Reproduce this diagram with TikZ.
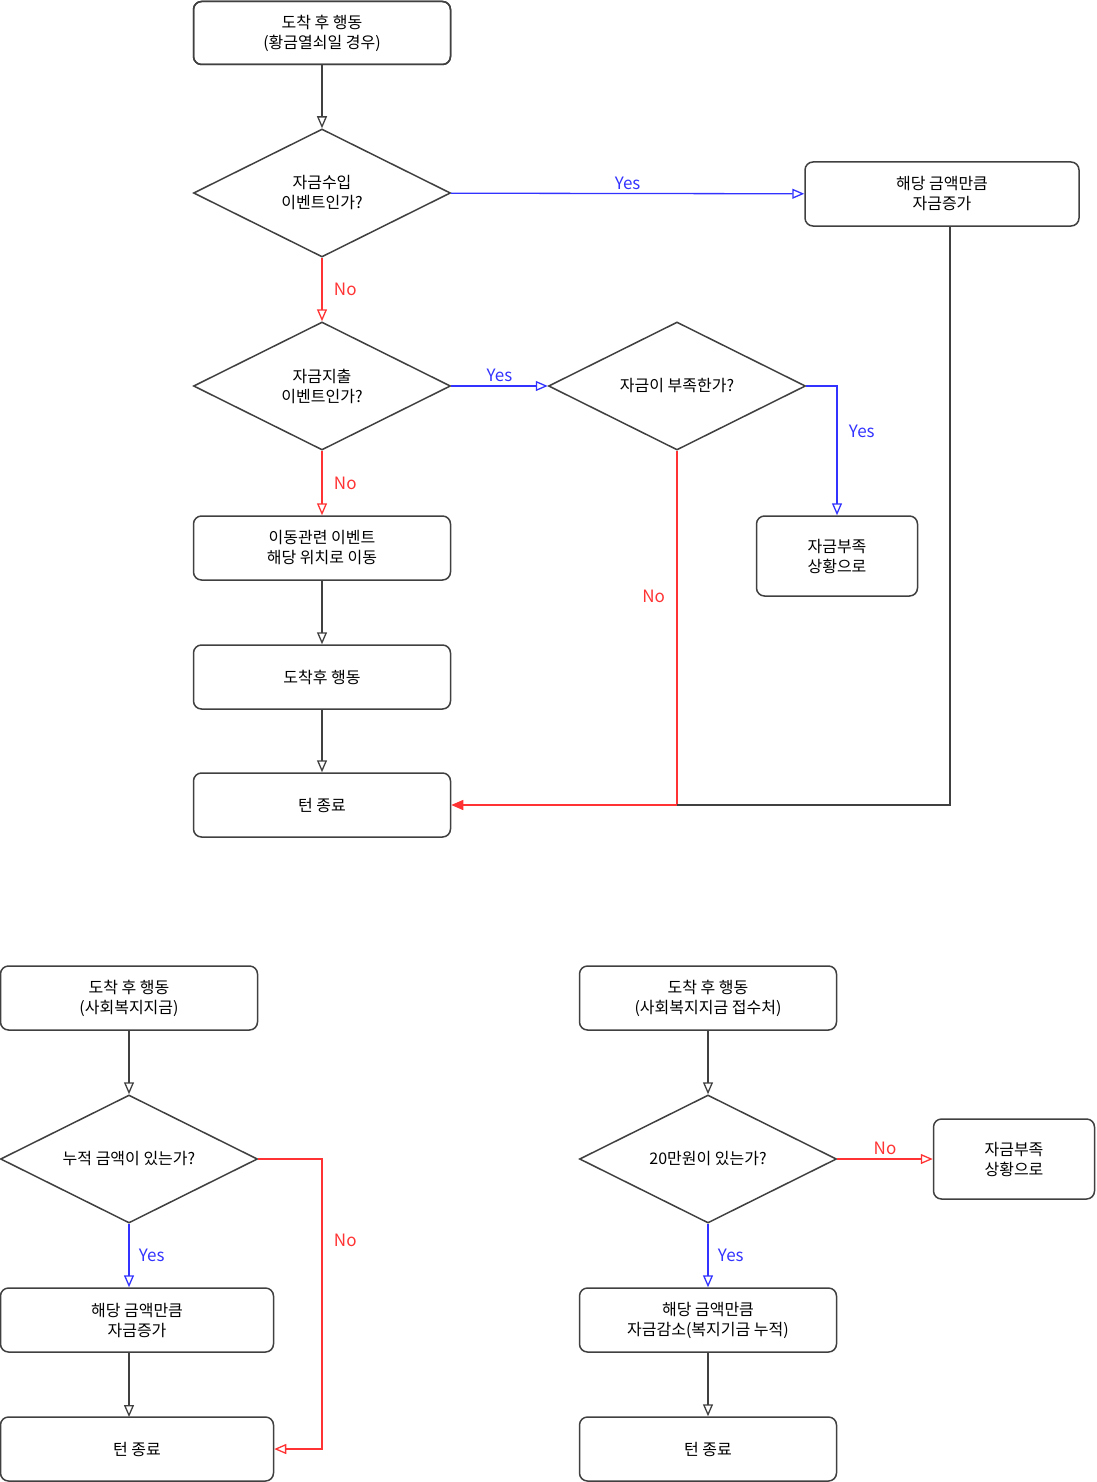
\documentclass[tikz,border=0pt]{standalone}
\usepackage{fontspec}
\setmainfont{Noto Sans CJK KR}
\usetikzlibrary{shapes.geometric,arrows.meta}
\definecolor{cb}{RGB}{51,51,255}
\definecolor{cr}{RGB}{255,51,51}
\begin{document}
\begin{tikzpicture}[x=1pt,y=-1pt,font=\fontsize{16}{20}\selectfont,
 box/.style={draw=black!75,line width=1.5pt,rounded corners=8pt,align=center,inner sep=0pt},
 dia/.style={draw=black!75,line width=1.5pt,diamond,aspect=2,align=center,inner sep=0pt},
 ar/.style={line width=1.3pt,-{Triangle[open,length=12pt,width=10pt]}},
 k/.style={ar,draw=black!75}, b/.style={ar,draw=cb}, r/.style={ar,draw=cr},
 lb/.style={text=cb,font=\fontsize{17}{20}\selectfont}, lr/.style={text=cr,font=\fontsize{17}{20}\selectfont}]
\useasboundingbox (0,0) rectangle (1096,1482);
\newcommand{\bx}[6]{\node[box,minimum width=#3,minimum height=#4] (#1) at (#2) {#5};}
\newcommand{\dm}[4]{\node[dia,minimum width=#3,minimum height=128] (#1) at (#2) {#4};}
\bx{A}{322,33}{257}{63}{}{}
\node[box,minimum width=257,minimum height=63] (A) at (322,33) {도착 후 행동\\(황금열쇠일 경우)};
\node[dia,minimum width=257,minimum height=128] (D1) at (322,193) {자금수입\\이벤트인가?};
\node[box,minimum width=274,minimum height=64] (R1) at (942,194) {해당 금액만큼\\자금증가};
\node[dia,minimum width=257,minimum height=128] (D2) at (322,386) {자금지출\\이벤트인가?};
\node[dia,minimum width=257,minimum height=128] (D3) at (677,386) {자금이 부족한가?};
\node[box,minimum width=161,minimum height=80] (R2) at (837,556) {자금부족\\상황으로};
\node[box,minimum width=257,minimum height=64] (B1) at (322,548) {이동관련 이벤트\\해당 위치로 이동};
\node[box,minimum width=257,minimum height=64] (B2) at (322,677) {도착후 행동};
\node[box,minimum width=257,minimum height=64] (B3) at (322,805) {턴 종료};
\coordinate (c1) at (837,386); \coordinate (c2) at (677,805);
\coordinate (c3) at (950,805); \coordinate (c4) at (950,226);
\draw[k] (A) -- (D1);
\draw[b] (D1) -- (R1) node[lb,pos=0.5,above] {Yes};
\draw[r] (D1) -- (D2) node[lr,pos=0.5,right=8pt] {No};
\draw[b] (D2) -- (D3) node[lb,pos=0.5,above] {Yes};
\draw[r] (D2) -- (B1) node[lr,pos=0.5,right=8pt] {No};
\draw[b] (D3.east) -- (c1) -- (R2.north) node[lb,pos=0.35,right=8pt] {Yes};
\draw[cr,line width=1.3pt,-{Triangle[length=12pt,width=10pt]}] (D3.south) -- (c2) node[lr,pos=0.41,left=8pt] {No} -- (B3.east);
\draw[black!75,line width=1.3pt] (c4) -- (c3) -- (c2);
\draw[k] (B1) -- (B2);
\draw[k] (B2) -- (B3);
% bottom left
\node[box,minimum width=257,minimum height=64] (L1) at (129,998) {도착 후 행동\\(사회복지지금)};
\node[dia,minimum width=257,minimum height=128] (LD) at (129,1159) {누적 금액이 있는가?};
\node[box,minimum width=273,minimum height=64] (L2) at (137,1320) {해당 금액만큼\\자금증가};
\node[box,minimum width=273,minimum height=64] (L3) at (137,1449) {턴 종료};
\coordinate (l1) at (322,1159); \coordinate (l2) at (322,1449);
\draw[k] (L1) -- (LD);
\draw[b] (LD.south) -- (LD.south |- L2.north) node[lb,pos=0.5,right=6pt] {Yes};
\draw[k] (129,1352) -- (129,1417);
\draw[r] (LD.east) -- (l1) -- (l2) node[lr,pos=0.28,right=8pt] {No} -- (L3.east);
% bottom right
\node[box,minimum width=257,minimum height=64] (M1) at (708,998) {도착 후 행동\\(사회복지지금 접수처)};
\node[dia,minimum width=257,minimum height=128] (MD) at (708,1159) {20만원이 있는가?};
\node[box,minimum width=161,minimum height=80] (MR) at (1014,1159) {자금부족\\상황으로};
\node[box,minimum width=257,minimum height=64] (M2) at (708,1320) {해당 금액만큼\\자금감소(복지기금 누적)};
\node[box,minimum width=257,minimum height=64] (M3) at (708,1449) {턴 종료};
\draw[k] (M1) -- (MD);
\draw[r] (MD) -- (MR) node[lr,pos=0.5,above] {No};
\draw[b] (MD) -- (M2) node[lb,pos=0.5,right=6pt] {Yes};
\draw[k] (M2) -- (M3);
\end{tikzpicture}
\end{document}
